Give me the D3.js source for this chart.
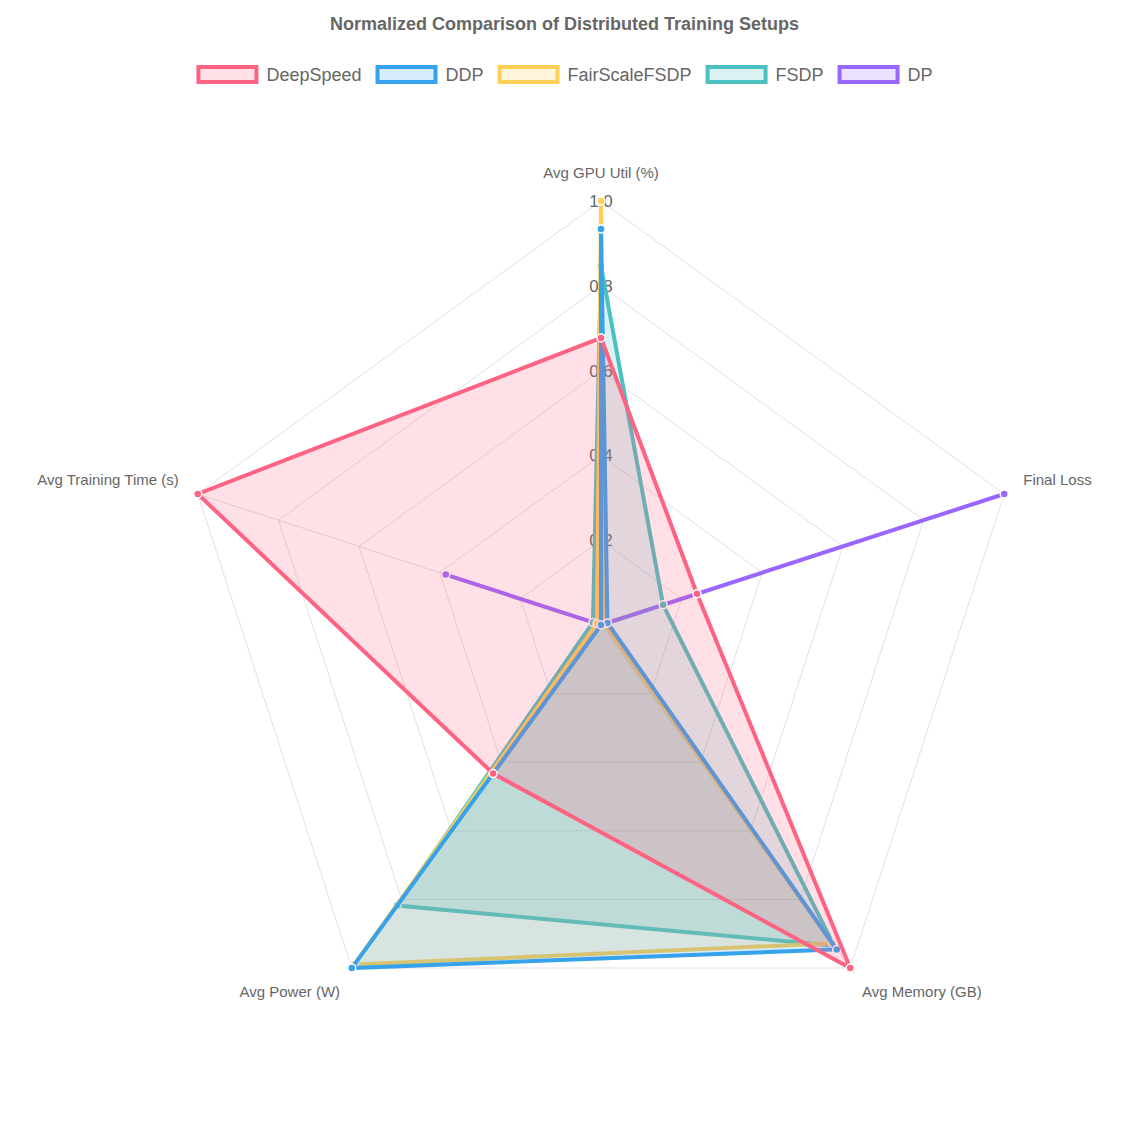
<!DOCTYPE html>
<html>
<head>
<meta charset="utf-8">
<script src="https://cdn.jsdelivr.net/npm/d3@7"></script>
<style>
  body { margin: 0; background: #fff; }
  svg { font-family: "Liberation Sans", Arial, sans-serif; }
</style>
</head>
<body>
<div id="chart"></div>
<script>
// values (already normalized 0..1)
const axes = ["Avg GPU Util (%)", "Final Loss", "Avg Memory (GB)", "Avg Power (W)", "Avg Training Time (s)"];
const setups = ["DeepSpeed", "DDP", "FairScaleFSDP", "FSDP", "DP"];
const deepSpeed = [0.677, 0.238, 1.0, 0.433, 1.0];
const ddp = [0.934, 0.016, 0.946, 1.0, 0.0];
const fairScaleFsdp = [1.0, 0.008, 0.928, 0.99, 0.01];
const fsdp = [0.847, 0.154, 0.935, 0.818, 0.02];
const dp = [0.0, 1.0, 0.0, 0.0, 0.385];
const tickValues = [0.2, 0.4, 0.6, 0.8, 1.0];
const colors = ["#ff6384", "#36a2eb", "#ffce56", "#4bc0c0", "#9966ff"];
const fills = ["rgba(255,99,132,0.2)", "rgba(54,162,235,0.2)", "rgba(255,206,86,0.2)",
               "rgba(75,192,192,0.2)", "rgba(153,102,255,0.2)"];

const series = [deepSpeed, ddp, fairScaleFsdp, fsdp, dp].map((values, i) => ({
    name: setups[i], values, color: colors[i], fill: fills[i]
}));

const width = 1129, height = 1128;
const cx = 601, cy = 625, R = 424;

const svg = d3.select("#chart").append("svg")
    .attr("width", width)
    .attr("height", height);

const r = d3.scaleLinear().domain([0, 1]).range([0, R]);
const angle = d3.scalePoint().domain(axes).range([0, 2 * Math.PI * 4 / 5]);

// title
svg.append("text")
    .attr("x", width / 2)
    .attr("y", 30)
    .attr("text-anchor", "middle")
    .attr("font-size", 18)
    .attr("font-weight", "bold")
    .attr("fill", "#666")
    .text("Normalized Comparison of Distributed Training Setups");

// legend
const legend = svg.append("g");
let lx = 0;
series.forEach(s => {
    const g = legend.append("g").attr("transform", `translate(${lx},0)`);
    g.append("rect")
        .attr("x", 2).attr("y", 67)
        .attr("width", 58).attr("height", 15)
        .attr("fill", s.fill)
        .attr("stroke", s.color)
        .attr("stroke-width", 4);
    const t = g.append("text")
        .attr("x", 70).attr("y", 81)
        .attr("font-size", 18)
        .attr("fill", "#666")
        .text(s.name);
    lx += 70 + t.node().getComputedTextLength() + 14;
});
legend.attr("transform", `translate(${(width - (lx - 14)) / 2},0)`);

const plot = svg.append("g").attr("transform", `translate(${cx},${cy})`);

// grid pentagons
const ring = d3.lineRadial()
    .angle(d => angle(d))
    .curve(d3.curveLinearClosed);
tickValues.forEach(v => {
    plot.append("path")
        .attr("d", ring.radius(r(v))(axes))
        .attr("fill", "none")
        .attr("stroke", "rgba(0,0,0,0.12)")
        .attr("stroke-width", 1);
});

// angle lines
axes.forEach(a => {
    const th = angle(a) - Math.PI / 2;
    plot.append("line")
        .attr("x1", 0).attr("y1", 0)
        .attr("x2", r(1) * Math.cos(th))
        .attr("y2", r(1) * Math.sin(th))
        .attr("stroke", "rgba(0,0,0,0.12)")
        .attr("stroke-width", 1);
});

// point labels
axes.forEach(a => {
    const th = angle(a) - Math.PI / 2;
    const c = Math.cos(th), sn = Math.sin(th);
    const x = (R + 20) * c, y = (R + 20) * sn;
    let anchor = "middle";
    if (c > 0.1) anchor = "start";
    else if (c < -0.1) anchor = "end";
    plot.append("text")
        .attr("x", x)
        .attr("y", sn < 0 ? y - 8 : y + 8)
        .attr("dy", "0.35em")
        .attr("text-anchor", anchor)
        .attr("font-size", 15)
        .attr("fill", "#666")
        .text(a);
});

// tick labels on the first axis
tickValues.forEach(v => {
    plot.append("text")
        .attr("x", 0)
        .attr("y", -r(v))
        .attr("dy", "0.35em")
        .attr("text-anchor", "middle")
        .attr("font-size", 17)
        .attr("fill", "#666")
        .text(v.toFixed(1));
});

// datasets: first one on top, like chart.js
const radar = d3.lineRadial()
    .angle((d, i) => angle(axes[i]))
    .radius(d => r(d))
    .curve(d3.curveLinearClosed);

series.slice().reverse().forEach(s => {
    const g = plot.append("g");
    g.append("path")
        .attr("d", radar(s.values))
        .attr("fill", s.fill)
        .attr("stroke", s.color)
        .attr("stroke-width", 4)
        .attr("stroke-linejoin", "miter");
    g.selectAll("circle")
        .data(s.values)
        .join("circle")
        .attr("cx", (d, i) => r(d) * Math.cos(angle(axes[i]) - Math.PI / 2))
        .attr("cy", (d, i) => r(d) * Math.sin(angle(axes[i]) - Math.PI / 2))
        .attr("r", 4)
        .attr("fill", s.color)
        .attr("stroke", "#fff")
        .attr("stroke-width", 1.5);
});
</script>
</body>
</html>
